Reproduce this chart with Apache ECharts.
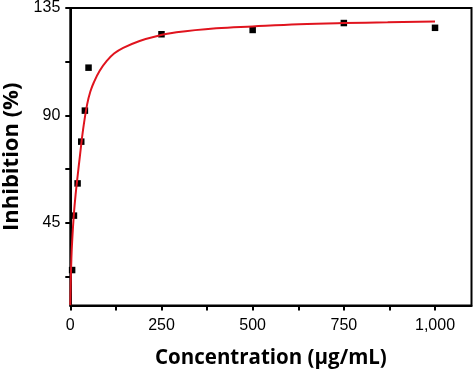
<!DOCTYPE html>
<html>
<head>
<meta charset="utf-8">
<script src="https://cdn.jsdelivr.net/npm/echarts@6/dist/echarts.min.js"></script>
<style>html,body{margin:0;padding:0;background:#fff;}#c{width:474px;height:372px;}</style>
</head>
<body>
<div id="c"></div>
<script>
// Measured points: concentration (µg/mL) and inhibition (%)
const measuredX = [5, 10, 20, 30, 40, 50, 250, 500, 750, 1000];
const measuredY = [25.2, 48, 61.5, 79, 92, 110, 124, 125.8, 128.7, 126.7];

// Fitted curve
const fitX = [0, 1.5, 3, 5, 10, 15, 20, 26, 35, 46, 55, 65, 81, 100, 120, 145, 190, 236, 291, 400, 500, 627, 750, 870, 1000];
const fitY = [10.5, 22, 30, 37, 49, 57.5, 64.5, 72.5, 84, 94.5, 100, 104, 108.8, 112.8, 115.9, 118.3, 121.2, 123.2, 124.8, 126.5, 127.3, 128.2, 128.7, 129, 129.3];

// Tick positions and labels
const xTickValues = [0, 125, 250, 375, 500, 625, 750, 875, 1000];
const xLabelValues = [0, 250, 500, 750, 1000];
const yTickValues = [22.5, 45, 67.5, 90, 112.5, 135];
const yLabelValues = [45, 90, 135];

const chart = echarts.init(document.getElementById('c'), null, {renderer: 'canvas'});
const labelFont = {fontFamily: 'Liberation Sans', fontSize: 16, color: '#000'};
const titleFont = {fontFamily: 'Open Sans', fontWeight: 'bold', color: '#000'};

chart.setOption({
  animation: false,
  grid: {left: 70.3, top: 8, right: 2.5, bottom: 66.4, outerBoundsMode: 'none', containLabel: false,
         show: true, borderColor: '#000', borderWidth: 2, backgroundColor: 'transparent'},
  xAxis: {
    type: 'value', min: 0, max: 1100,
    name: 'Concentration (\u03bcg/mL)', nameLocation: 'middle', nameGap: 42,
    nameTextStyle: Object.assign({}, titleFont, {fontSize: 20.5}),
    axisLine: {show: true, lineStyle: {color: '#000', width: 2}},
    axisTick: {show: true, length: 5, lineStyle: {color: '#000', width: 2}, customValues: xTickValues},
    axisLabel: Object.assign({}, labelFont, {margin: 12, customValues: xLabelValues,
      formatter: v => String(Math.round(v)).replace(/\B(?=(\d{3})+(?!\d))/g, ',')}),
    splitLine: {show: false}
  },
  yAxis: {
    type: 'value', min: 10.3, max: 135,
    name: 'Inhibition (%)', nameLocation: 'middle', nameGap: 47, nameRotate: 90,
    nameTextStyle: Object.assign({}, titleFont, {fontSize: 22}),
    axisLine: {show: true, lineStyle: {color: '#000', width: 2}},
    axisTick: {show: true, length: 5, lineStyle: {color: '#000', width: 2}, customValues: yTickValues},
    axisLabel: Object.assign({}, labelFont, {margin: 10, customValues: yLabelValues}),
    splitLine: {show: false}
  },
  series: [
    {
      type: 'scatter', symbol: 'rect', symbolSize: 6.5,
      itemStyle: {color: '#000', opacity: 1},
      data: measuredX.map((x, i) => [x, measuredY[i]]),
      z: 2
    },
    {
      type: 'line', showSymbol: false, smooth: 0.4,
      lineStyle: {color: '#e0141e', width: 2},
      data: fitX.map((x, i) => [x, fitY[i]]),
      z: 3
    }
  ]
});
</script>
</body>
</html>
